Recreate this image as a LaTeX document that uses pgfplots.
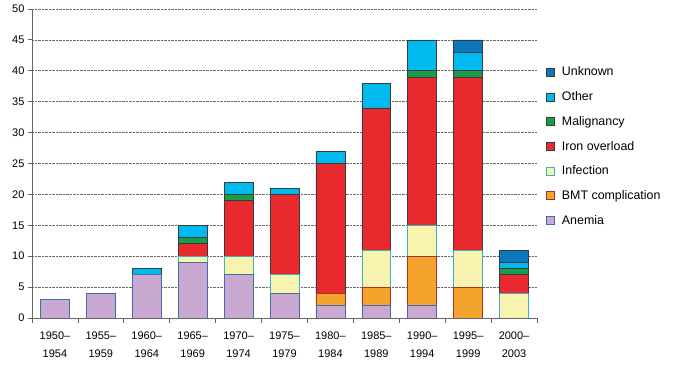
\documentclass[border=0pt]{standalone}
\usepackage{pgfplots}
\pgfplotsset{compat=1.18}
\usepackage{pgfplotstable}
\usepackage{fontspec}
\setmainfont{Liberation Sans}
\definecolor{cAnem}{HTML}{C9A8D2}
\definecolor{eAnem}{HTML}{3F6FA8}
\definecolor{cBMT}{HTML}{F4A42C}
\definecolor{eBMT}{HTML}{A0342C}
\definecolor{cInf}{HTML}{F8F3AE}
\definecolor{eInf}{HTML}{3BB2C2}
\definecolor{cIron}{HTML}{E8292E}
\definecolor{cMal}{HTML}{14A04A}
\definecolor{cOth}{HTML}{00B9EF}
\definecolor{cUnk}{HTML}{0A77BF}
\definecolor{eDark}{HTML}{3A3A3A}
\pgfplotstableread{
x Anemia BMT Infection Iron Malig Other Unknown
0 3 0 0 0 0 0 0
1 4 0 0 0 0 0 0
2 7 0 0 0 0 1 0
3 9 0 1 2 1 2 0
4 7 0 3 9 1 2 0
5 4 0 3 13 0 1 0
6 2 2 0 21 0 2 0
7 2 3 6 23 0 4 0
8 2 8 5 24 1 5 0
9 0 5 6 28 1 3 2
10 0 0 4 3 1 1 2
}\datatable
\begin{document}
\begin{tikzpicture}
\useasboundingbox (0pt,0pt) rectangle (678pt,366pt);
\begin{axis}[
  at={(32pt,48pt)}, anchor=south west,
  scale only axis, width=505pt, height=309pt,
  ybar stacked, bar width=0.63,
  xmin=-0.5, xmax=10.5, ymin=0, ymax=50,
  axis x line*=bottom, axis y line*=left,
  axis line style={-, draw=gray!80!black, line width=0.8pt},
  xtick={0,...,10},
  xticklabels={{1950–\\1954},{1955–\\1959},{1960–\\1964},{1965–\\1969},{1970–\\1974},{1975–\\1979},{1980–\\1984},{1985–\\1989},{1990–\\1994},{1995–\\1999},{2000–\\2003}},
  xticklabel style={align=center, font=\fontsize{11}{18}\selectfont, yshift=-6pt},
  major x tick style={draw=none},
  minor xtick={-0.5,0.5,...,10.5},
  minor tick length=5pt,
  tick align=outside,
  ytick={0,5,...,50},
  major tick length=4pt,
  yticklabel style={font=\fontsize{11}{13}\selectfont},
  /pgf/number format/assume math mode=true,
  tick style={draw=gray!80!black, line width=0.8pt},
  ymajorgrids, major grid style={densely dotted, draw=gray!85!black, line width=0.6pt},
  legend image code/.code={\draw[#1, line width=0.7pt] (0pt,-4pt) rectangle (8pt,4pt);},
  reverse legend,
  legend style={draw=none, fill=none, at={(axis description cs:1.012,0.826)}, anchor=north west,
    font=\fontsize{12.4}{14}\selectfont, row sep=10.2pt, cells={anchor=west},
    /tikz/every odd column/.append style={column sep=5pt}},
  every axis plot/.append style={line width=0.7pt},
]
\addplot[fill=cAnem, draw=eAnem] table[x=x, y=Anemia] {\datatable};
\addplot[fill=cBMT, draw=eBMT] table[x=x, y=BMT] {\datatable};
\addplot[fill=cInf, draw=eInf] table[x=x, y=Infection] {\datatable};
\addplot[fill=cIron, draw=eDark] table[x=x, y=Iron] {\datatable};
\addplot[fill=cMal, draw=eDark] table[x=x, y=Malig] {\datatable};
\addplot[fill=cOth, draw=eDark] table[x=x, y=Other] {\datatable};
\addplot[fill=cUnk, draw=eDark] table[x=x, y=Unknown] {\datatable};
\legend{Anemia, BMT complication, Infection, Iron overload, Malignancy, Other, Unknown}
\end{axis}
\end{tikzpicture}
\end{document}
